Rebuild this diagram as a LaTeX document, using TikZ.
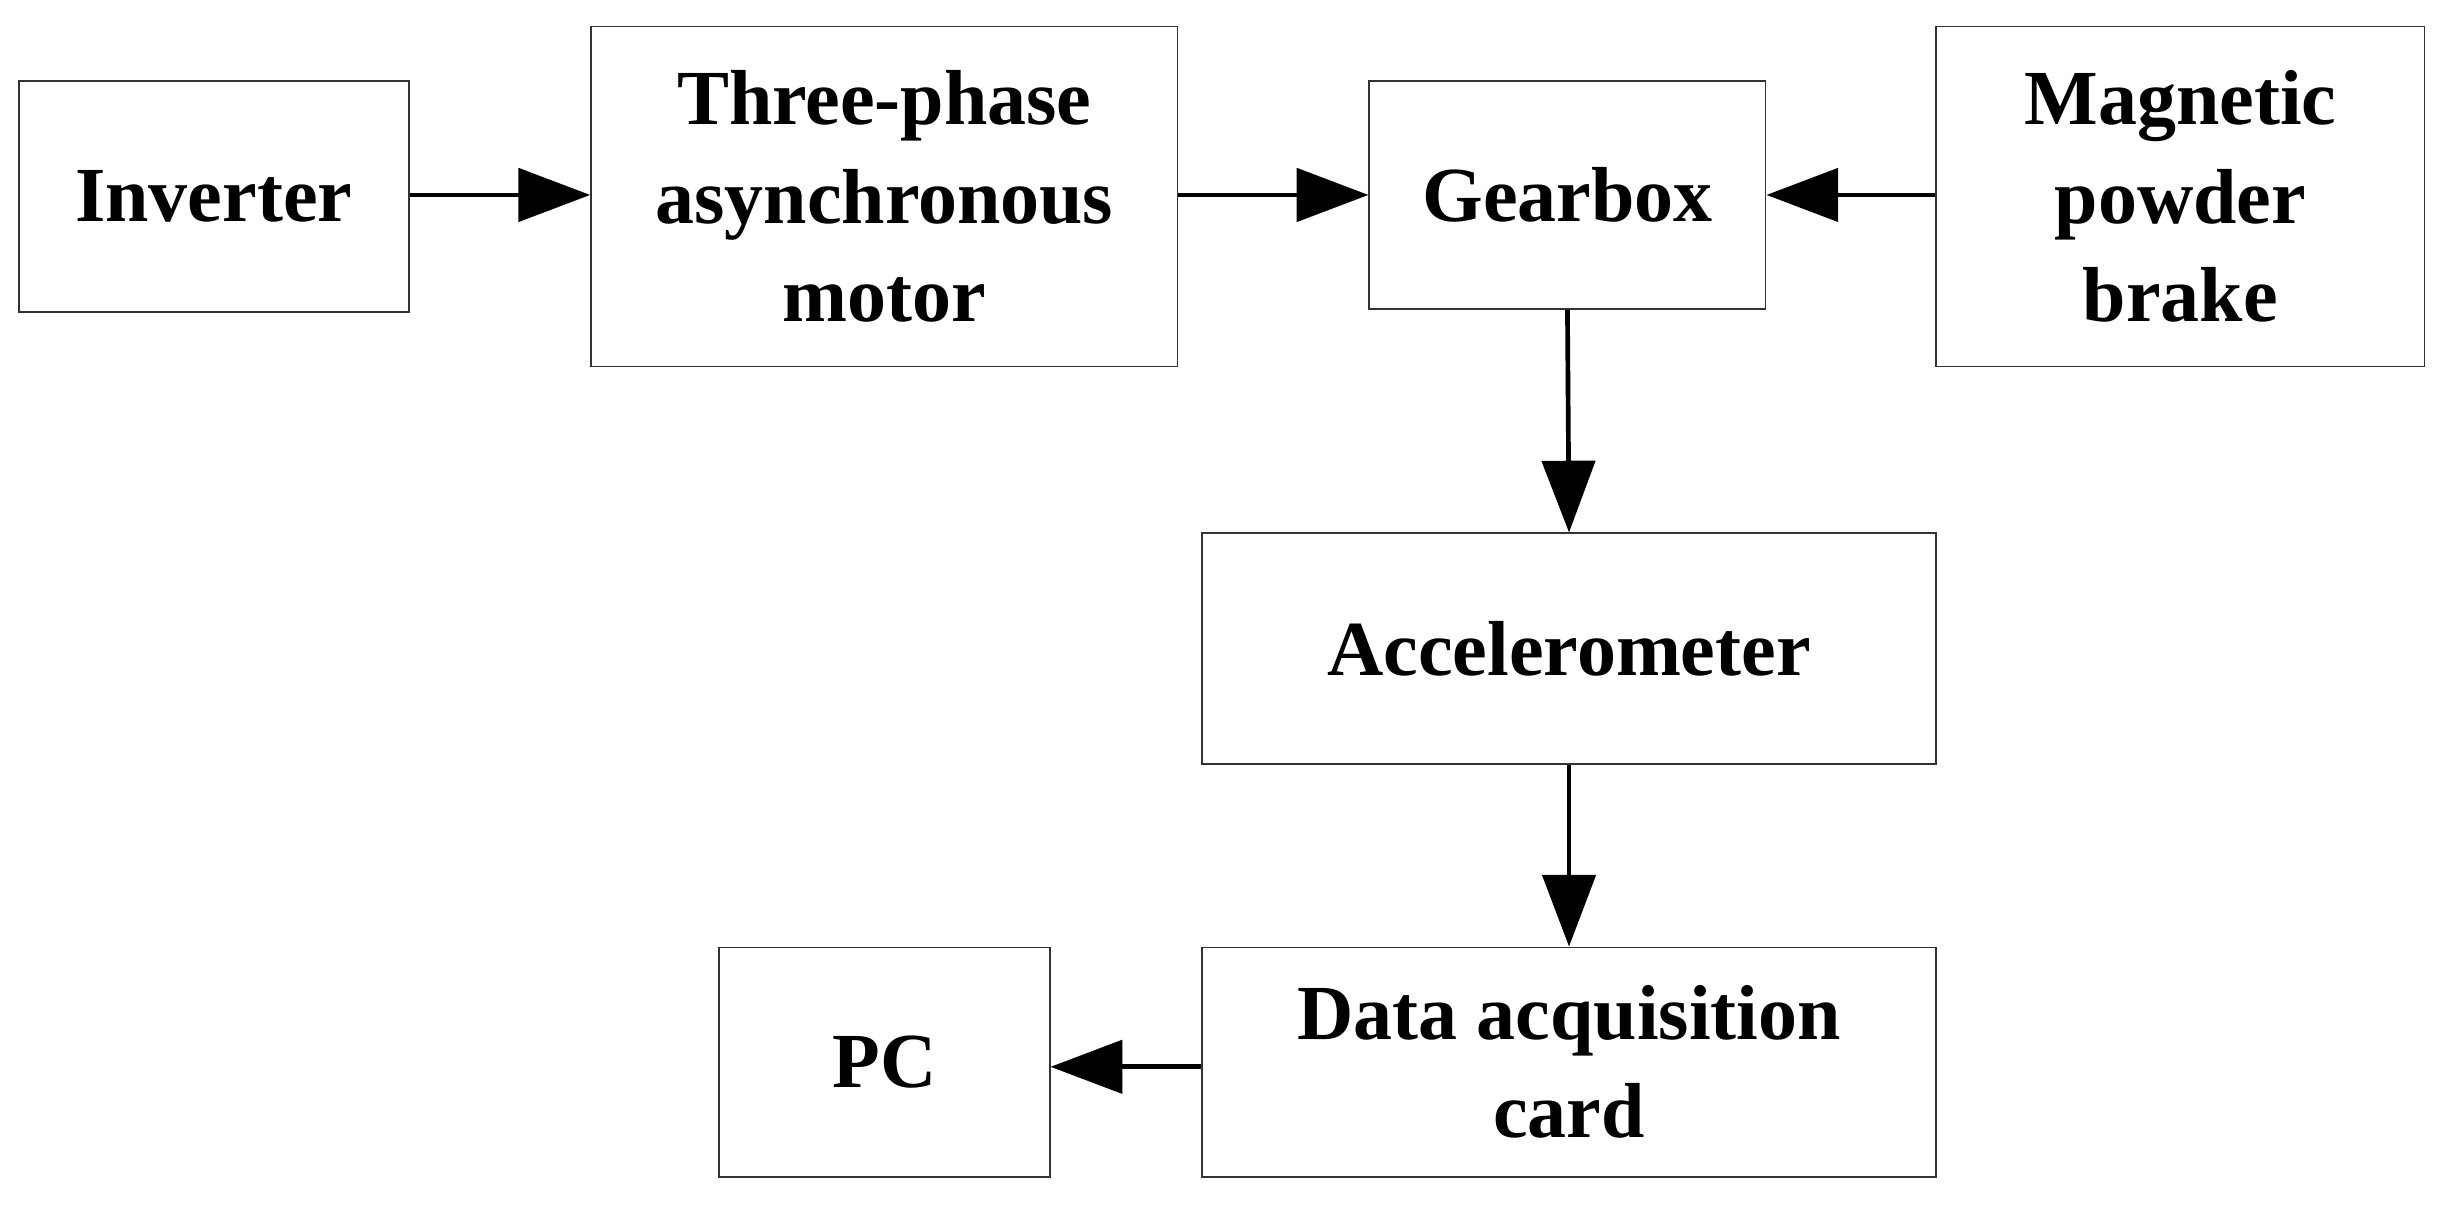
\documentclass[tikz,border=0pt]{standalone}
\usepackage{fontspec}
\setmainfont{Liberation Serif}
\usetikzlibrary{arrows.meta}
\begin{document}
\begin{tikzpicture}[x=1pt,y=-1pt,
  box/.style={draw=black!80,line width=1.2pt,inner sep=0pt,align=center,font=\fontsize{50}{63}\selectfont\bfseries},
  arr/.style={line width=3pt,-{Triangle[length=46pt,width=34pt]}}]
\useasboundingbox (0,0) rectangle (1567,775);
\node[box,minimum width=250,minimum height=148] (inv) at (137,126) {Inverter};
\node[box,minimum width=376,minimum height=218] (mot) at (567,126) {Three-phase\\asynchronous\\motor};
\node[box,minimum width=254,minimum height=146] (gb) at (1005,125) {Gearbox};
\node[box,minimum width=313,minimum height=218] (mpb) at (1398,126) {Magnetic\\powder\\brake};
\node[box,minimum width=471,minimum height=148] (acc) at (1006,416) {Accelerometer};
\node[box,minimum width=471,minimum height=147] (daq) at (1006,681) {Data acquisition\\card};
\node[box,minimum width=212,minimum height=147] (pc) at (567,681) {PC};
\draw[arr] (inv.east|-0,125) -- (mot.west|-0,125);
\draw[arr] (mot.east|-0,125) -- (gb.west|-0,125);
\draw[arr] (mpb.west|-0,125) -- (gb.east|-0,125);
\draw[arr] (gb.south) -- (acc.north);
\draw[arr] (acc.south) -- (daq.north);
\draw[arr] (daq.west|-0,684) -- (pc.east|-0,684);
\end{tikzpicture}
\end{document}
